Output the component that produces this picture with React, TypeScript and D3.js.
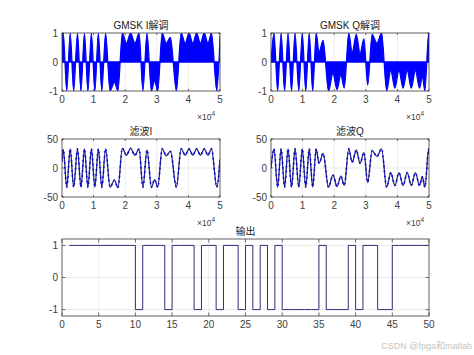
import React from 'react';
import * as d3 from 'd3';

// ---------- data ----------
// bit decisions (stairs, x = 1..50)
const bitIndex = d3.range(1, 51);
const bitValues = [
  1, 1, 1, 1, 1, 1, 1, 1, 1, -1,
  1, 1, 1, -1, 1, 1, 1, -1, 1, 1,
  -1, 1, 1, -1, 1, -1, 1, -1, 1, -1,
  -1, -1, -1, -1, 1, -1, -1, -1, 1, -1,
  1, 1, -1, -1, 1, 1, 1, 1, 1, 1,
];

// I branch: sample positions of extrema, filtered values, demod envelope
const iKnotX = [
  0, 400, 1500, 2600, 3700, 4900, 6000, 7100, 8200, 9300, 10400, 11500, 12600, 13800,
  15200, 16600, 17700, 19100, 20400, 21700, 23100, 24400, 25600, 26900, 28300, 29300,
  30300, 31700, 33000, 34300, 36200, 37700, 39000, 40200, 41400, 42600, 43800, 45000,
  46200, 47300, 49000, 50000,
];
const iFiltered = [
  11, 32, -33, 33, -33, 33, -33, 33, -33, 33, -33, 33, -33, 33,
  -33, -21, -34, 34, 22, 34, 22, 33, -33, 31, -33, -20,
  -33, 33, 21, 29, -33, 33, 22, 33, 22, 33, 22, 33,
  22, 33, -33, 15,
];
const iDemod = [
  0.9, 1, -1, 1, -1, 1, -1, 1, -1, 1, -1, 1, -1, 1,
  -1, -0.7, -1, 1, 0.65, 1, 0.65, 1, -1, 1, -1, -0.65,
  -1, 1, 0.65, 0.85, -1, 1, 0.65, 1, 0.65, 1, 0.65, 1,
  0.65, 1, -1, 0.9,
];

// Q branch
const qKnotX = [
  0, 950, 2100, 3200, 4300, 5400, 6500, 7600, 8800, 9900, 11000, 12100, 13200, 14300,
  15200, 16500, 18200, 19600, 20900, 22100, 23200, 24600, 25700, 27000, 28200, 29400,
  30600, 32000, 33500, 35000, 36600, 37900, 39200, 40500, 41800, 43100, 44400, 45700,
  47000, 47900, 48700, 49900, 50000,
];
const qFiltered = [
  0, 33, -33, 33, -33, 33, -33, 33, -33, 33, -33, 33, -33, 33,
  8, 25, -33, -12, -32, -14, -30, 33, 10, 31, 8, 27,
  -25, 30, 20, 33, -33, -8, -30, -8, -30, -8, -30, -8,
  -30, -15, -33, 33, 25,
];
const qDemod = [
  0, 1, -1, 1, -1, 1, -1, 1, -1, 1, -1, 1, -1, 1,
  0.35, 0.75, -1, -0.4, -0.95, -0.45, -0.9, 1, 0.35, 0.95, 0.3, 0.8,
  -0.8, 0.95, 0.65, 1, -1, -0.3, -0.9, -0.3, -0.9, -0.3, -0.9, -0.3,
  -0.9, -0.5, -1, 1, 0.8,
];

const sampleTicks = [0, 10000, 20000, 30000, 40000, 50000];
const bitTicks = [0, 5, 10, 15, 20, 25, 30, 35, 40, 45, 50];
const unitTicks = [-1, 0, 1];
const filtTicks = [-50, 0, 50];

const titles = ['GMSK I解调', 'GMSK Q解调', '滤波I', '滤波Q', '输出'];

// ---------- styling ----------
const W = 474;
const H = 355;
const FONT = '"Liberation Sans", Arial, Helvetica, "Noto Sans CJK SC", sans-serif';
const TXT = '#404040';
const GRID = '#e3e3e3';
const AXIS = '#3a3a3a';

type Box = { l: number; r: number; t: number; b: number };

interface AxesProps {
  id: string;
  box: Box;
  xDomain: [number, number];
  yDomain: [number, number];
  xTicks: number[];
  yTicks: number[];
  xFmt: (v: number) => string;
  title: string;
  exponent?: boolean;
  tickLen: number;
  render: (x: d3.ScaleLinear<number, number>, y: d3.ScaleLinear<number, number>) => React.ReactNode;
}

function Axes({ id, box, xDomain, yDomain, xTicks, yTicks, xFmt, title, exponent, tickLen, render }: AxesProps) {
  const x = d3.scaleLinear().domain(xDomain).range([box.l, box.r]);
  const y = d3.scaleLinear().domain(yDomain).range([box.b, box.t]);
  return (
    <g>
      <defs>
        <clipPath id={id}>
          <rect x={box.l} y={box.t} width={box.r - box.l} height={box.b - box.t} />
        </clipPath>
      </defs>
      {/* grid */}
      {xTicks.slice(1, -1).map((t) => (
        <line key={'gx' + t} x1={x(t)} x2={x(t)} y1={box.t} y2={box.b} stroke={GRID} strokeWidth={0.7} />
      ))}
      {yTicks.filter((t) => y(t) > box.t + 1 && y(t) < box.b - 1).map((t) => (
        <line key={'gy' + t} x1={box.l} x2={box.r} y1={y(t)} y2={y(t)} stroke={GRID} strokeWidth={0.7} />
      ))}
      <g clipPath={`url(#${id})`}>{render(x, y)}</g>
      {/* box */}
      <rect x={box.l} y={box.t} width={box.r - box.l} height={box.b - box.t} fill="none" stroke={AXIS} strokeWidth={0.8} />
      {/* ticks */}
      {xTicks.map((t) => (
        <g key={'tx' + t}>
          <line x1={x(t)} x2={x(t)} y1={box.b} y2={box.b - tickLen} stroke={AXIS} strokeWidth={0.7} />
          <line x1={x(t)} x2={x(t)} y1={box.t} y2={box.t + tickLen} stroke={AXIS} strokeWidth={0.7} />
          <text x={x(t)} y={box.b + 12} textAnchor="middle" fontSize={10} fill={TXT} fontFamily={FONT}>
            {xFmt(t)}
          </text>
        </g>
      ))}
      {yTicks.map((t) => (
        <g key={'ty' + t}>
          <line x1={box.l} x2={box.l + tickLen} y1={y(t)} y2={y(t)} stroke={AXIS} strokeWidth={0.7} />
          <line x1={box.r} x2={box.r - tickLen} y1={y(t)} y2={y(t)} stroke={AXIS} strokeWidth={0.7} />
          <text x={box.l - 4} y={y(t) + 3.5} textAnchor="end" fontSize={10} fill={TXT} fontFamily={FONT}>
            {String(t).replace('-', '-')}
          </text>
        </g>
      ))}
      <text x={(box.l + box.r) / 2} y={box.t - 4.5} textAnchor="middle" fontSize={10} fill="#222" fontFamily={FONT}>
        {title}
      </text>
      {exponent && (
        <text x={box.r - 23} y={box.b + 29} fontSize={8.5} fill={TXT} fontFamily={FONT}>
          ×10
          <tspan dy={-4} fontSize={6.5}>4</tspan>
        </text>
      )}
    </g>
  );
}

function demodArea(xs: number[], vs: number[], x: d3.ScaleLinear<number, number>, y: d3.ScaleLinear<number, number>) {
  const idx = d3.range(xs.length);
  const area = d3
    .area<number>()
    .x((i) => x(xs[i]))
    .y0(() => y(0))
    .y1((i) => y(vs[i]))
    .curve(d3.curveMonotoneX);
  const line = d3
    .line<number>()
    .x((i) => x(xs[i]))
    .y((i) => y(vs[i]))
    .curve(d3.curveMonotoneX);
  return (
    <g>
      <path d={area(idx) || ''} fill="#0000ff" stroke="none" />
      <path d={line(idx) || ''} fill="none" stroke="#0000ff" strokeWidth={1.2} />
      <line x1={x(xs[0])} x2={x(xs[xs.length - 1])} y1={y(0)} y2={y(0)} stroke="#0000ff" strokeWidth={1.4} />
    </g>
  );
}

function filteredLine(xs: number[], vs: number[], x: d3.ScaleLinear<number, number>, y: d3.ScaleLinear<number, number>) {
  const idx = d3.range(xs.length);
  const line = d3
    .line<number>()
    .x((i) => x(xs[i]))
    .y((i) => y(vs[i]))
    .curve(d3.curveMonotoneX);
  const d = line(idx) || '';
  return (
    <g>
      <path d={d} fill="none" stroke="#262680" strokeWidth={1.3} />
      <path d={d} fill="none" stroke="#0000e6" strokeWidth={1.6} strokeDasharray="1.5 3.5" />
    </g>
  );
}

export default function App() {
  const tl: Box = { l: 62, r: 220, t: 33, b: 91 };
  const tr: Box = { l: 271, r: 429, t: 33, b: 91 };
  const ml: Box = { l: 62, r: 220, t: 139, b: 197 };
  const mr: Box = { l: 271, r: 429, t: 139, b: 197 };
  const bt: Box = { l: 62, r: 429, t: 239, b: 316 };
  const sFmt = (v: number) => String(v / 10000);
  const nFmt = (v: number) => String(v);

  return (
    <svg width={W} height={H} style={{ position: 'absolute', left: 0, top: 0, background: '#fff' }}>
      <rect width={W} height={H} fill="#fff" />
      <Axes id="c1" box={tl} xDomain={[0, 50000]} yDomain={[-1, 1]} xTicks={sampleTicks} yTicks={unitTicks}
        xFmt={sFmt} title={titles[0]} exponent tickLen={2}
        render={(x, y) => demodArea(iKnotX, iDemod, x, y)} />
      <Axes id="c2" box={tr} xDomain={[0, 50000]} yDomain={[-1, 1]} xTicks={sampleTicks} yTicks={unitTicks}
        xFmt={sFmt} title={titles[1]} exponent tickLen={2}
        render={(x, y) => demodArea(qKnotX, qDemod, x, y)} />
      <Axes id="c3" box={ml} xDomain={[0, 50000]} yDomain={[-50, 50]} xTicks={sampleTicks} yTicks={filtTicks}
        xFmt={sFmt} title={titles[2]} exponent tickLen={2}
        render={(x, y) => filteredLine(iKnotX, iFiltered, x, y)} />
      <Axes id="c4" box={mr} xDomain={[0, 50000]} yDomain={[-50, 50]} xTicks={sampleTicks} yTicks={filtTicks}
        xFmt={sFmt} title={titles[3]} exponent tickLen={2}
        render={(x, y) => filteredLine(qKnotX, qFiltered, x, y)} />
      <Axes id="c5" box={bt} xDomain={[0, 50]} yDomain={[-1.2, 1.2]} xTicks={bitTicks} yTicks={unitTicks}
        xFmt={nFmt} title={titles[4]} tickLen={3.5}
        render={(x, y) => {
          const line = d3
            .line<number>()
            .x((i) => x(bitIndex[i]))
            .y((i) => y(bitValues[i]))
            .curve(d3.curveStepAfter);
          return <path d={line(d3.range(bitIndex.length)) || ''} fill="none" stroke="#2f2f7a" strokeWidth={1} />;
        }} />
      <text x={472} y={349} textAnchor="end" fontSize={9} fill="#c4c4c4" fontFamily={FONT}>
        CSDN @fpga和matlab
      </text>
    </svg>
  );
}
